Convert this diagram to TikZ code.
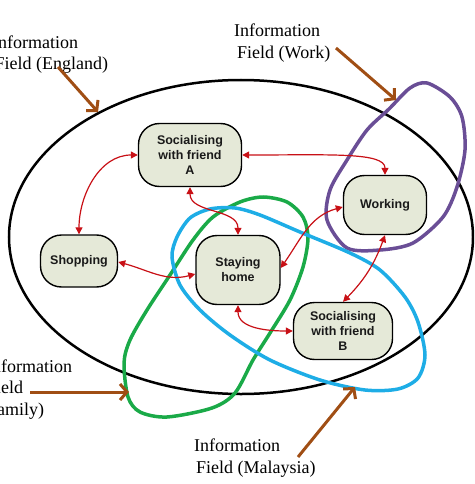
\documentclass[tikz,border=0pt]{standalone}
\usepackage{fontspec}
\setmainfont{Liberation Serif}
\newfontfamily\nodefont{Liberation Sans}
\usetikzlibrary{arrows.meta}
\definecolor{nodefill}{RGB}{229,233,216}
\definecolor{redarrow}{RGB}{200,16,22}
\definecolor{brownarrow}{RGB}{160,78,20}
\definecolor{purpleloop}{RGB}{106,78,150}
\definecolor{greenloop}{RGB}{26,170,72}
\definecolor{blueloop}{RGB}{30,173,230}
\begin{document}
\begin{tikzpicture}[x=1pt,y=1pt,
  activity/.style={draw=black, line width=1.4pt, fill=nodefill, rounded corners=21pt,
    align=center, font=\nodefont\bfseries\fontsize{12.5}{15}\selectfont, inner sep=0pt, text=black!90},
  link/.style={draw=redarrow, line width=1.2pt, {Triangle[length=7pt,width=7pt]}-{Triangle[length=7pt,width=7pt]}},
  pointer/.style={draw=brownarrow, line width=3pt, -{Straight Barb[length=7pt,width=16pt]}},
  fieldlabel/.style={anchor=base west, align=left, inner sep=0pt, font=\fontsize{18}{21.5}\selectfont},
  fieldloop/.style={line width=3.5pt}
]
\clip (0,0) rectangle (474,-484);

% England field
\draw[line width=2.5pt] (241,-237) ellipse [x radius=232, y radius=157];

% hand-drawn fields
\draw[fieldloop, draw=purpleloop] plot[smooth cycle] coordinates {
  (427,-83) (450,-97) (462,-117) (465,-150) (457,-187) (443,-217) (413,-243)
  (380,-250) (347,-248) (327,-220) (330,-190) (347,-160) (367,-130) (389,-109) (410,-88)};
\draw[fieldloop, draw=greenloop] plot[smooth cycle] coordinates {
  (263,-197) (287,-202) (303,-217) (308,-238) (303,-267) (290,-300) (270,-333)
  (253,-360) (235,-393) (212,-408) (167,-417) (140,-412) (128,-397) (124,-363)
  (130,-340) (147,-310) (170,-275) (193,-240) (213,-217) (240,-202)};
\draw[fieldloop, draw=blueloop] plot[smooth cycle] coordinates {
  (177,-237) (190,-218) (210,-209) (235,-208) (260,-215) (300,-232) (350,-253)
  (380,-270) (405,-297) (418,-322) (425,-355) (418,-378) (398,-389) (365,-390)
  (320,-380) (270,-360) (230,-335) (200,-310) (180,-285) (172,-257)};

% activities
\node[activity, minimum width=103pt, minimum height=63pt] (A) at (190,-155) {Socialising\\with friend\\A};
\node[activity, minimum width=77pt, minimum height=52pt] (shop) at (79,-261) {Shopping};
\node[activity, minimum width=84pt, minimum height=69pt] (home) at (238,-270) {Staying\\home};
\node[activity, minimum width=83pt, minimum height=59pt] (work) at (385,-205) {Working};
\node[activity, minimum width=99pt, minimum height=57pt] (B) at (343,-331) {Socialising\\with friend\\B};

% links
\draw[link] (shop.north) to[out=90,in=180] (A.west);
\draw[link] (A.south) to[out=-90,in=90] (home.north);
\draw[link] (A.east) .. controls (330,-155) and (385,-152) .. (work.north);
\draw[link] ([yshift=-1pt]shop.east) to[out=-15,in=195] ([yshift=-4pt]home.west);
\draw[link] ([yshift=2pt]home.east) to[out=55,in=195] ([yshift=-2pt]work.west);
\draw[link] (home.south) to[out=-90,in=180] (B.west);
\draw[link] (work.south) to[bend left=12] (B.north);

% labels (anchor = baseline of the last line)
\node[fieldlabel] (lenG) at (-8,-70) {Information\\\hspace*{2.5pt}Field (England)};
\node[fieldlabel] (lwork) at (234,-58.5) {Information\\\hspace*{3pt}Field (Work)};
\node[fieldlabel] (lfam) at (-14,-415) {Information\\Field\\\hspace*{-5pt}(Family)};
\node[fieldlabel] (lmal) at (194,-473) {Information\\\hspace*{2pt}Field (Malaysia)};

% pointers
\coordinate (penG) at (58,-67);
\coordinate (tenG) at (98,-112);
\coordinate (pwork) at (336,-48);
\coordinate (twork) at (396,-100);
\coordinate (pfam) at (30,-392);
\coordinate (tfam) at (129,-392);
\coordinate (pmal) at (298,-457);
\coordinate (tmal) at (355,-387);
\draw[pointer] (penG) -- (tenG);
\draw[pointer] (pwork) -- (twork);
\draw[pointer] (pfam) -- (tfam);
\draw[pointer] (pmal) -- (tmal);
\end{tikzpicture}
\end{document}
